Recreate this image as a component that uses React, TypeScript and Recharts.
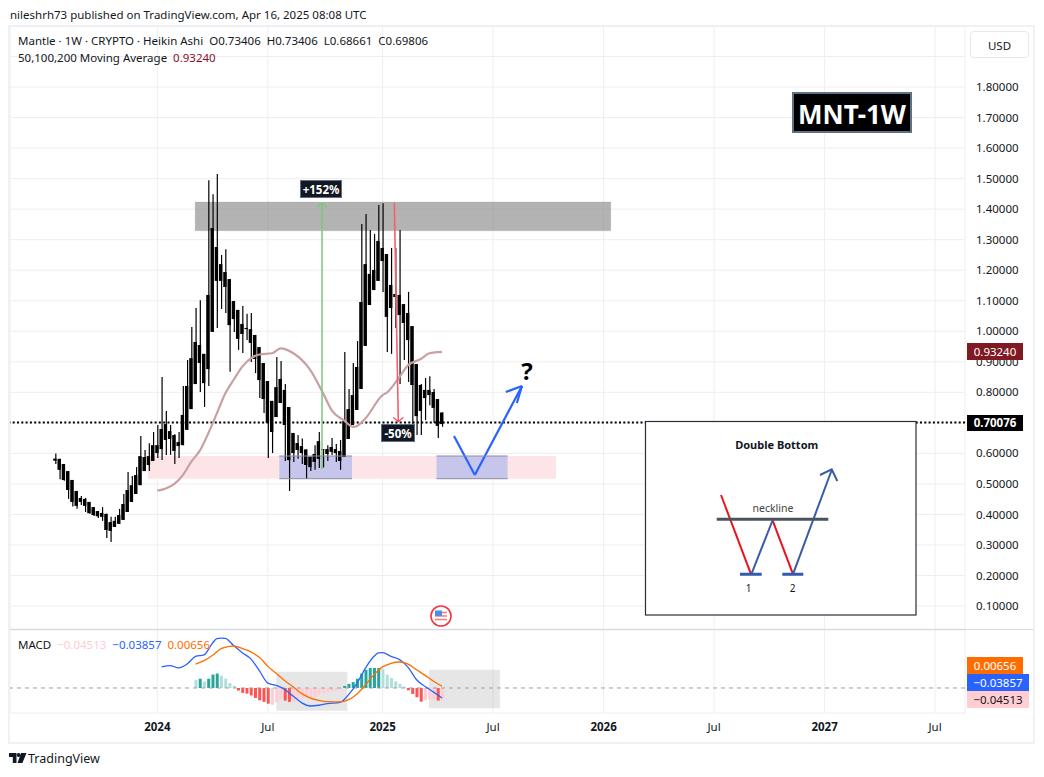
import { Bar, CartesianGrid, Cell, ComposedChart, Line, ReferenceArea, ReferenceLine, XAxis, YAxis } from 'recharts'

/* ── Price pane data, one entry per weekly bar ── */

const highs = [
  0.600, 0.582, 0.565, 0.542, 0.513, 0.477, 0.460, 0.454, 0.441, 0.424, 0.411, 0.424,
  0.402, 0.392, 0.392, 0.418, 0.467, 0.539, 0.526, 0.555, 0.657, 0.611, 0.633, 0.670,
  0.693, 0.850, 0.739, 0.693, 0.663, 0.670, 0.821, 0.906, 1.014, 1.076, 1.102, 0.926,
  1.495, 1.449, 1.515, 1.250, 1.269, 1.171, 1.099, 1.070, 1.083, 1.057, 1.060, 0.988,
  0.948, 0.896, 0.837, 0.772, 0.916, 0.903, 0.827, 0.752, 0.667, 0.660, 0.649, 0.613,
  0.589, 0.627, 0.670, 0.614, 0.627, 0.650, 0.631, 0.644, 0.932, 0.811, 0.896, 0.968,
  1.351, 1.384, 1.332, 1.319, 1.414, 1.419, 1.253, 1.273, 1.273, 1.332, 1.089, 1.129,
  1.017, 0.893, 0.827, 0.847, 0.853, 0.811, 0.778, 0.734,
]
const bodyHighs = [
  0.583, 0.582, 0.565, 0.542, 0.513, 0.477, 0.454, 0.451, 0.441, 0.424, 0.411, 0.405,
  0.402, 0.375, 0.379, 0.398, 0.434, 0.480, 0.496, 0.529, 0.591, 0.588, 0.591, 0.627,
  0.627, 0.680, 0.696, 0.673, 0.660, 0.637, 0.726, 0.821, 0.912, 0.965, 0.955, 0.926,
  1.119, 1.338, 1.276, 1.220, 1.194, 1.171, 1.099, 1.070, 1.024, 1.011, 1.007, 0.988,
  0.948, 0.896, 0.837, 0.772, 0.817, 0.844, 0.808, 0.752, 0.667, 0.634, 0.624, 0.613,
  0.589, 0.598, 0.640, 0.614, 0.614, 0.621, 0.614, 0.608, 0.706, 0.745, 0.791, 0.883,
  1.096, 1.220, 1.188, 1.201, 1.296, 1.273, 1.253, 1.152, 1.122, 1.119, 1.089, 1.060,
  1.017, 0.893, 0.824, 0.808, 0.808, 0.801, 0.778, 0.734,
]
const bodyLows = [
  0.576, 0.546, 0.513, 0.480, 0.441, 0.428, 0.441, 0.428, 0.404, 0.398, 0.394, 0.392,
  0.349, 0.346, 0.359, 0.369, 0.382, 0.408, 0.441, 0.467, 0.496, 0.542, 0.562, 0.575,
  0.601, 0.614, 0.644, 0.647, 0.608, 0.624, 0.627, 0.677, 0.745, 0.827, 0.896, 0.830,
  0.876, 0.998, 1.165, 1.165, 1.145, 1.020, 1.040, 0.975, 0.991, 1.007, 0.962, 0.909,
  0.840, 0.778, 0.700, 0.670, 0.719, 0.765, 0.693, 0.578, 0.601, 0.611, 0.601, 0.562,
  0.555, 0.572, 0.582, 0.611, 0.598, 0.605, 0.601, 0.575, 0.588, 0.647, 0.693, 0.742,
  0.811, 0.952, 1.086, 1.135, 1.165, 1.230, 1.047, 1.076, 1.112, 1.053, 1.027, 0.971,
  0.824, 0.722, 0.739, 0.781, 0.791, 0.749, 0.690, 0.696,
]
const lows = [
  0.565, 0.515, 0.510, 0.451, 0.426, 0.419, 0.431, 0.408, 0.402, 0.395, 0.388, 0.379,
  0.323, 0.310, 0.359, 0.369, 0.382, 0.408, 0.441, 0.467, 0.496, 0.542, 0.542, 0.575,
  0.585, 0.578, 0.595, 0.595, 0.565, 0.585, 0.627, 0.677, 0.745, 0.827, 0.801, 0.752,
  0.821, 0.998, 1.011, 1.073, 1.060, 0.867, 0.998, 0.939, 0.929, 0.971, 0.899, 0.863,
  0.781, 0.732, 0.585, 0.601, 0.719, 0.765, 0.575, 0.477, 0.572, 0.582, 0.565, 0.516,
  0.542, 0.546, 0.552, 0.554, 0.575, 0.595, 0.572, 0.546, 0.588, 0.647, 0.693, 0.742,
  0.811, 0.952, 1.086, 1.135, 1.165, 1.129, 0.932, 0.926, 1.011, 0.827, 0.906, 0.834,
  0.693, 0.660, 0.660, 0.709, 0.758, 0.700, 0.650, 0.687,
]

const maWeeks = [24, 26, 28, 30, 32, 34, 36, 38, 40, 42, 44, 46, 48, 51, 53, 56, 60, 63, 65, 68, 70, 71, 73, 77, 78, 81, 83, 86, 88, 91]
const maValues = [0.478, 0.485, 0.500, 0.529, 0.573, 0.609, 0.666, 0.731, 0.797, 0.842, 0.884, 0.911, 0.924, 0.928, 0.944, 0.928, 0.873, 0.797, 0.742, 0.707, 0.687, 0.690, 0.715, 0.791, 0.799, 0.851, 0.889, 0.909, 0.928, 0.9324]

/* ── MACD pane data ── */

const macdWeeks = [25, 27, 29, 31, 33, 35, 37, 38, 39, 40, 42, 44, 46, 48, 50, 52, 54, 56, 58, 60, 62, 64, 67, 69, 71, 73, 75, 76, 77, 79, 81, 83, 85, 87, 89, 91]
const macdValues = [0.082, 0.087, 0.078, 0.093, 0.123, 0.129, 0.175, 0.192, 0.194, 0.193, 0.164, 0.137, 0.113, 0.067, 0.019, 0.010, -0.006, -0.032, -0.058, -0.070, -0.067, -0.061, -0.056, -0.026, 0.019, 0.078, 0.123, 0.136, 0.137, 0.123, 0.110, 0.080, 0.032, 0.006, -0.016, -0.03857]
const signalWeeks = [33, 35, 37, 39, 41, 42, 44, 46, 48, 50, 52, 54, 56, 58, 60, 62, 64, 67, 69, 71, 73, 75, 77, 79, 81, 83, 85, 87, 89, 91]
const signalValues = [0.093, 0.106, 0.127, 0.153, 0.162, 0.163, 0.153, 0.140, 0.119, 0.084, 0.056, 0.028, 0.004, -0.022, -0.039, -0.048, -0.053, -0.054, -0.045, -0.023, 0.013, 0.052, 0.082, 0.096, 0.101, 0.093, 0.071, 0.049, 0.026, 0.00656]

const HIST_START = 33
const histValues = [
  0.032, 0.036, 0.025, 0.036, 0.052, 0.056, 0.048, 0.036, 0.019, 0.009,
  -0.010, -0.019, -0.022, -0.029, -0.039, -0.048, -0.054, -0.061, -0.065, -0.055, -0.045,
  -0.049, -0.054, -0.054, -0.045, -0.040, -0.035, -0.040, -0.035, -0.025, -0.022, -0.018, -0.012, -0.010, -0.006,
  0.008, 0.016, 0.023, 0.036, 0.056, 0.071, 0.078, 0.078, 0.078, 0.074, 0.052, 0.039, 0.026, 0.016, 0.005,
  -0.009, -0.023, -0.036, -0.053, -0.048, -0.045, -0.045, -0.049, -0.04513,
]
const histColors = [
  '#b2dfdb', '#26a69a', '#b2dfdb', '#26a69a', '#26a69a', '#26a69a', '#b2dfdb', '#b2dfdb', '#b2dfdb', '#b2dfdb',
  '#ff5252', '#ff5252', '#ff5252', '#ff5252', '#ff5252', '#ff5252', '#ff5252', '#ff5252', '#ffcdd2', '#ffcdd2', '#ffcdd2',
  '#ff5252', '#ff5252', '#ffcdd2', '#ffcdd2', '#ffcdd2', '#ffcdd2', '#ffcdd2', '#ffcdd2', '#ffcdd2', '#ffcdd2', '#ffcdd2', '#ffcdd2', '#ffcdd2', '#ffcdd2',
  '#26a69a', '#26a69a', '#26a69a', '#26a69a', '#26a69a', '#26a69a', '#26a69a', '#26a69a', '#26a69a', '#b2dfdb', '#b2dfdb', '#b2dfdb', '#b2dfdb', '#b2dfdb', '#b2dfdb',
  '#ff5252', '#ff5252', '#ff5252', '#ff5252', '#ffcdd2', '#ffcdd2', '#ffcdd2', '#ff5252', '#ffcdd2',
]

/* ── Axes ── */

const priceTicks = [0.1, 0.2, 0.3, 0.4, 0.5, 0.6, 0.7, 0.8, 0.9, 1.0, 1.1, 1.2, 1.3, 1.4, 1.5, 1.6, 1.7, 1.8, 1.9]
const hiddenPriceLabels = [0.7, 1.9] // covered by the last-price and USD boxes
const timeTicks = [24, 50, 77, 103, 129, 155, 181, 207]
const timeLabels = ['2024', 'Jul', '2025', 'Jul', '2026', 'Jul', '2027', 'Jul']
const WEEK_DOMAIN = [-10.67, 214.04]
const FONT = '"Noto Sans", sans-serif'
const INK = '#131722'
const GRID = '#eeeef2'

const priceRows = highs.map((high, i) => {
  const m = maWeeks.indexOf(i)
  return {
    week: i,
    wick: [lows[i], high],
    body: [bodyLows[i], bodyHighs[i]],
    ma: m >= 0 ? maValues[m] : null,
  }
})

const macdRows = highs.map((_, i) => {
  const a = macdWeeks.indexOf(i)
  const b = signalWeeks.indexOf(i)
  return {
    week: i,
    macd: a >= 0 ? macdValues[a] : null,
    signal: b >= 0 ? signalValues[b] : null,
    hist: i >= HIST_START ? histValues[i - HIST_START] : null,
  }
})

/* ── Hand-drawn chart annotations, in week/price coordinates ── */

type Stroke = { from: [number, number]; to: [number, number]; color: string; width: number }

const priceStrokes: Stroke[] = [
  { from: [62.75, 1.421], to: [62.75, 0.549], color: '#7dc67f', width: 1.5 },
  { from: [61.6, 1.406], to: [62.75, 1.421], color: '#7dc67f', width: 1.5 },
  { from: [63.9, 1.406], to: [62.75, 1.421], color: '#7dc67f', width: 1.5 },
  { from: [79.76, 1.421], to: [80.7, 0.704], color: '#f6606d', width: 1.6 },
  { from: [79.5, 0.718], to: [80.7, 0.704], color: '#f23645', width: 1.2 },
  { from: [81.9, 0.718], to: [80.7, 0.704], color: '#f23645', width: 1.2 },
  { from: [93.8, 0.657], to: [98.7, 0.529], color: '#2962ff', width: 2.2 },
  { from: [98.7, 0.529], to: [109.8, 0.821], color: '#2962ff', width: 2.2 },
  { from: [106, 0.801], to: [109.8, 0.821], color: '#2962ff', width: 2.2 },
  { from: [108.6, 0.765], to: [109.8, 0.821], color: '#2962ff', width: 2.2 },
  { from: [52.7, 0.5914], to: [69.8, 0.5914], color: '#8d8d9e', width: 1 },
  { from: [52.7, 0.517], to: [69.8, 0.517], color: '#8d8d9e', width: 1 },
  { from: [89.7, 0.5914], to: [106.4, 0.5914], color: '#8d8d9e', width: 1 },
  { from: [89.7, 0.517], to: [106.4, 0.517], color: '#8d8d9e', width: 1 },
]

function Label({ left, top, width, height, bg, color, bold, size = 11.5, align = 'center', children, border, radius }: any) {
  return (
    <div style={{
      position: 'absolute', left, top, width, height, lineHeight: `${height}px`, background: bg, color,
      fontWeight: bold ? 700 : 400, fontSize: size, textAlign: align, fontFamily: FONT, whiteSpace: 'nowrap',
      border, boxSizing: 'border-box', borderRadius: radius,
    }}>
      {children}
    </div>
  )
}

function TimeTick({ x, y, payload }: any) {
  const label = timeLabels[timeTicks.indexOf(payload.value)]
  const isYear = label !== 'Jul'
  return (
    <text x={x} y={y + 10} textAnchor="middle" fill={INK} fontSize={11.5} fontFamily={FONT} fontWeight={isYear ? 700 : 400}>
      {label}
    </text>
  )
}

function priceLabel(v: number) {
  return hiddenPriceLabels.includes(v) ? '' : v.toFixed(5)
}

function DoubleBottom() {
  return (
    <svg width={1044} height={777} style={{ position: 'absolute', left: 0, top: 0, pointerEvents: 'none' }}>
      <rect x={645.5} y={421.5} width={270.5} height={193.5} fill="#fff" stroke="#2a2e39" strokeWidth={1.2} />
      <text x={776.7} y={449} textAnchor="middle" fontSize={11} fontWeight={700} fontFamily={FONT} fill={INK}>Double Bottom</text>
      <text x={773} y={512} textAnchor="middle" fontSize={10.5} fontFamily={FONT} fill="#444">neckline</text>
      <text x={748.7} y={592} textAnchor="middle" fontSize={10} fontFamily={FONT} fill={INK}>1</text>
      <text x={792.7} y={592} textAnchor="middle" fontSize={10} fontFamily={FONT} fill={INK}>2</text>
      <g fill="none" strokeWidth={2}>
        <path d="M721 495L750.7 573.3" stroke="#e8141e" />
        <path d="M772.7 520.7L792.7 573.3" stroke="#e8141e" />
        <path d="M751.7 573.3L772.7 520" stroke="#3a5ca8" />
        <path d="M793.3 573.3L831.7 470" stroke="#3a5ca8" />
        <path d="M820 475L831.7 469.3L837.3 481" stroke="#3a5ca8" />
      </g>
      <path d="M716.7 519.3H828.3" stroke="#4a5360" strokeWidth={3} />
      <path d="M740 574.3H761.7M782.3 574.3H803.3" stroke="#2f5bb0" strokeWidth={3} />
    </svg>
  )
}

function PricePane() {
  return (
    <ComposedChart
      width={1044}
      height={629}
      data={priceRows}
      margin={{ top: 26, right: 0, bottom: 0, left: 10 }}
      style={{ position: 'absolute', left: 0, top: 0 }}
    >
      <XAxis xAxisId="wick" dataKey="week" type="number" domain={WEEK_DOMAIN} ticks={timeTicks} hide allowDataOverflow />
      <XAxis xAxisId="body" dataKey="week" type="number" domain={WEEK_DOMAIN} ticks={timeTicks} hide allowDataOverflow />
      <YAxis
        orientation="right"
        width={79}
        domain={[0.0247, 2]}
        ticks={priceTicks}
        allowDataOverflow
        axisLine={false}
        tickLine={false}
        tickMargin={5}
        interval={0}
        tick={{ fill: INK, fontSize: 11.5, fontFamily: FONT }}
        tickFormatter={priceLabel}
      />
      <CartesianGrid xAxisId="wick" stroke={GRID} />
      <ReferenceArea xAxisId="wick" x1={21.8} x2={117.8} y1={0.517} y2={0.5914} fill="#fde4e7" fillOpacity={1} stroke="none" />
      <ReferenceArea xAxisId="wick" x1={52.7} x2={69.8} y1={0.517} y2={0.5914} fill="#c6c6ec" fillOpacity={1} stroke="none" />
      <ReferenceArea xAxisId="wick" x1={89.7} x2={106.4} y1={0.517} y2={0.5914} fill="#c6c6ec" fillOpacity={1} stroke="none" />
      <ReferenceArea xAxisId="wick" x1={32.9} x2={130.7} y1={1.329} y2={1.4235} fill="#808080" fillOpacity={0.6} stroke="#808080" strokeOpacity={0.15} />
      <ReferenceLine xAxisId="wick" y={0.70076} stroke="#000" strokeWidth={2} strokeDasharray="2 2.3" />
      <Bar xAxisId="wick" dataKey="wick" barSize={1.2} fill="#000" isAnimationActive={false} />
      <Bar xAxisId="body" dataKey="body" barSize={3.4} fill="#000" isAnimationActive={false} />
      <Line
        xAxisId="wick"
        dataKey="ma"
        type="monotone"
        connectNulls
        dot={false}
        stroke="#c8a0a2"
        strokeWidth={2.2}
        isAnimationActive={false}
      />
      {priceStrokes.map((s, i) => (
        <ReferenceLine
          key={i}
          xAxisId="wick"
          segment={[{ x: s.from[0], y: s.from[1] }, { x: s.to[0], y: s.to[1] }]}
          stroke={s.color}
          strokeWidth={s.width}
        />
      ))}
    </ComposedChart>
  )
}

function MacdPane() {
  return (
    <ComposedChart
      width={1044}
      height={112}
      data={macdRows}
      margin={{ top: 0, right: 0, bottom: 0, left: 10 }}
      style={{ position: 'absolute', left: 0, top: 630 }}
    >
      <XAxis
        dataKey="week"
        type="number"
        domain={WEEK_DOMAIN}
        ticks={timeTicks}
        interval={0}
        allowDataOverflow
        height={29}
        axisLine={false}
        tickLine={false}
        tick={<TimeTick />}
      />
      <YAxis
        orientation="right"
        width={79}
        domain={[-0.0971, 0.2252]}
        ticks={[0.2]}
        allowDataOverflow
        axisLine={false}
        tickLine={false}
        tickMargin={5}
        tick={{ fill: INK, fontSize: 11.5, fontFamily: FONT }}
        tickFormatter={(v: number) => v.toFixed(5)}
      />
      <CartesianGrid stroke={GRID} />
      <ReferenceLine y={0} stroke="#a0a0a0" strokeDasharray="4 4" />
      <Bar dataKey="hist" barSize={3} isAnimationActive={false}>
        {macdRows.map((row) => (
          <Cell key={row.week} fill={row.hist === null ? 'none' : histColors[row.week - HIST_START]} />
        ))}
      </Bar>
      <Line dataKey="macd" type="monotone" connectNulls dot={false} stroke="#2962ff" strokeWidth={1.3} isAnimationActive={false} />
      <Line dataKey="signal" type="monotone" connectNulls dot={false} stroke="#ff6d00" strokeWidth={1.3} isAnimationActive={false} />
      <ReferenceArea x1={52} x2={68.7} y1={-0.088} y2={0.063} fill="#808080" fillOpacity={0.2} stroke="none" />
      <ReferenceArea x1={87.9} x2={104.6} y1={-0.079} y2={0.071} fill="#808080" fillOpacity={0.2} stroke="none" />
    </ComposedChart>
  )
}

export default function App() {
  return (
    <div style={{ position: 'absolute', left: 0, top: 0, width: 1044, height: 777, background: '#fff', overflow: 'hidden', color: INK, fontFamily: FONT }}>
      {/* outer frame */}
      <div style={{ position: 'absolute', left: 8, top: 25, width: 1027, height: 719, border: '2px solid #f0f1f4', boxSizing: 'border-box' }} />

      <PricePane />
      <div style={{ position: 'absolute', left: 10, top: 629, width: 1023, height: 1, background: '#d6d8e2' }} />
      <MacdPane />
      <DoubleBottom />

      <Label left={10} top={7} height={16} align="left">nileshrh73 published on TradingView.com, Apr 16, 2025 08:08 UTC</Label>
      <Label left={18} top={33} height={16} align="left">
        Mantle · 1W · CRYPTO · Heikin Ashi&nbsp; O0.73406&nbsp; H0.73406&nbsp; L0.68661&nbsp; C0.69806
      </Label>
      <Label left={18} top={50} height={16} align="left">
        50,100,200 Moving Average&nbsp; <span style={{ color: '#880e1f' }}>0.93240</span>
      </Label>
      <Label left={18} top={637} height={16} align="left">
        MACD&nbsp; <span style={{ color: '#ffcdd2' }}>−0.04513</span>&nbsp; <span style={{ color: '#2962ff' }}>−0.03857</span>&nbsp; <span style={{ color: '#ff6d00' }}>0.00656</span>
      </Label>

      <Label left={970} top={31} width={59} height={27} bg="#fff" border="1px solid #e6e8ee" radius={4}>USD</Label>
      <Label left={792} top={92} width={120} height={41} bg="#000" color="#fff" bold size={26} border="2px solid #5d7286">MNT-1W</Label>
      <Label left={300} top={180} width={42} height={18} bg="#131722" color="#fff" bold size={11.5} border="1px solid #5d7286">+152%</Label>
      <Label left={381} top={424} width={34} height={18} bg="#131722" color="#fff" bold size={11.5} border="1px solid #5d7286">-50%</Label>
      <Label left={516} top={356} width={22} height={30} color="#000" bold size={24}>?</Label>

      <Label left={967} top={343} width={56} height={17} bg="#801922" color="#fff">0.93240</Label>
      <Label left={967} top={415} width={56} height={16} bg="#000" color="#fff" bold>0.70076</Label>
      <Label left={967} top={657} width={56} height={17} bg="#ff6d00" color="#fff">0.00656</Label>
      <Label left={967} top={674} width={62} height={17} bg="#2962ff" color="#fff">−0.03857</Label>
      <Label left={967} top={691} width={62} height={17} bg="#ffcdd2" color={INK}>−0.04513</Label>

      {/* US event flag */}
      <svg width={24} height={24} style={{ position: 'absolute', left: 429, top: 604 }}>
        <circle cx={12} cy={12} r={10} fill="#fff" stroke="#f23645" strokeWidth={1.6} />
        <path d="M6 8.5H18M6 12H18M6 15.5H18" stroke="#f77c80" strokeWidth={1.6} />
        <rect x={6} y={6.5} width={7} height={5.5} fill="#4a90e2" />
      </svg>

      {/* logo */}
      <svg width={20} height={12} style={{ position: 'absolute', left: 9, top: 753 }}>
        <path d="M0 0H7.5V10H3.8V4H0Z" fill="#131722" />
        <circle cx={9.6} cy={2} r={1.9} fill="#131722" />
        <path d="M12 0H17.5L13.4 10H8.5Z" fill="#131722" />
      </svg>
      <Label left={28} top={751} height={16} size={12.5} align="left">TradingView</Label>
    </div>
  )
}
